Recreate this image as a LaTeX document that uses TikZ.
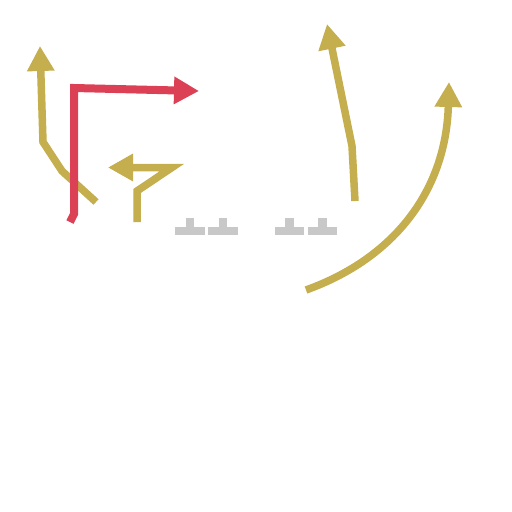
\documentclass[tikz,border=0pt]{standalone}
\usetikzlibrary{arrows.meta}
\definecolor{gold}{HTML}{C4AE4E}
\definecolor{redr}{HTML}{DC4055}
\definecolor{blk}{HTML}{C8C8C8}
\tikzset{
  route/.style={line width=7.5pt, color=gold, -{Triangle[length=25pt,width=26pt]}},
  redroute/.style={line width=8pt, color=redr, -{Triangle[length=25pt,width=26pt]}},
  lineman/.style={fill=blk, draw=none}
}
\begin{document}
\begin{tikzpicture}[x=1pt,y=-1pt]
\useasboundingbox[fill=white] (0,0) rectangle (512,512);
% linemen
\foreach \bx in {175,208,274.5,307.5}{
  \fill[lineman] (\bx,226.5) rectangle ++(29.5,8.5);
  \fill[lineman] (\bx+10.5,218) rectangle ++(8.5,9);
}
% coordinates
\coordinate (a0) at (96,202);
\coordinate (a1) at (62,171);
\coordinate (a2) at (43,142);
\coordinate (a3) at (40,46);
\draw[route] (a0) -- (a1) -- (a2) -- (a3);
% red route
\coordinate (r0) at (70,222);
\coordinate (r1) at (74,214);
\coordinate (r2) at (74,88);
\coordinate (r3) at (199,91);
\draw[redroute] (r0) -- (r1) -- (r2) -- (r3);
% small route
\coordinate (b0) at (137,222);
\coordinate (b1) at (137,191);
\coordinate (b2) at (172,167.5);
\coordinate (b3) at (108,167.5);
\draw[route] (b0) -- (b1) -- (b2) -- (b3);
% middle right route
\coordinate (c0) at (355,201);
\coordinate (c1) at (352,146);
\coordinate (c2) at (327,24);
\draw[route] (c0) -- (c1) -- (c2);
% curved route
\coordinate (d0) at (306,290);
\coordinate (d1) at (449,82);
\draw[route] (d0) .. controls (395,258) and (446,190) .. (d1);
\end{tikzpicture}
\end{document}
